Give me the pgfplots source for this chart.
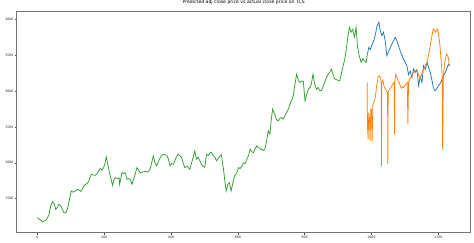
\documentclass[border=0pt]{standalone}
\usepackage{fontspec}
\setmainfont{DejaVu Sans}
\usepackage{pgfplots}
\pgfplotsset{compat=1.18}
\definecolor{mplblue}{HTML}{1F77B4}
\definecolor{mplorange}{HTML}{FF7F0E}
\definecolor{mplgreen}{HTML}{2CA02C}
\begin{document}
\begin{tikzpicture}
\begin{axis}[
  scale only axis,
  width=454pt, height=221pt,
  xmin=-62, xmax=1297, ymin=1025, ymax=4107,
  xtick={0,200,...,1200}, ytick={1500,2000,...,4000},
  tick align=outside, major tick length=2pt,
  tick style={black!70, line width=0.5pt},
  axis line style={draw=black!55, line width=1.2pt},
  xtick pos=bottom, ytick pos=left,
  /pgf/number format/assume math mode=true,
  /pgf/number format/set thousands separator={},
  ticklabel style={font=\fontsize{3.2}{3.7}\selectfont, text=black!85, inner sep=1pt},
  title={Predicted adj close price vs actual close price on TCS},
  title style={font=\fontsize{4.6}{5.5}\selectfont, at={(0.5,1)}, anchor=base, yshift=2.2pt, inner sep=0pt},
  every axis plot/.append style={line width=0.75pt, mark=none},
]
\coordinate (bbA) at (rel axis cs:0,0);
\coordinate (bbB) at (rel axis cs:1,1);
\addplot[mplblue] coordinates {
(988,3520)(992,3610)(997,3580)(1002,3650)(1007,3703)(1012,3800)(1017,3913)(1022,3960)
(1026,3850)(1031,3773)(1036,3820)(1041,3700)(1046,3493)(1051,3550)(1056,3600)(1061,3656)
(1066,3700)(1071,3750)(1076,3700)(1081,3630)(1086,3560)(1091,3500)(1096,3446)(1101,3400)
(1106,3350)(1111,3230)(1116,3280)(1121,3190)(1126,3306)(1131,3260)(1136,3300)(1141,3074)
(1146,3200)(1151,3120)(1156,3353)(1161,3300)(1166,3400)(1171,3330)(1176,3260)(1181,3150)
(1185,3050)(1190,3004)(1195,3030)(1200,3074)(1205,3100)(1210,3150)(1215,3214)(1220,3250)
(1225,3306)(1230,3376)(1234,3350)
};
\addplot[mplorange] coordinates {
(987,3120)(988,2500)(990,2330)(992,2700)(994,2630)(996,2310)(998,2750)(1000,2748)
(1002,2300)(1004,2800)(1007,2841)(1010,2880)(1012,2935)(1015,3050)(1017,3120)(1020,3200)
(1024,3214)(1027,3180)(1029,3120)(1030,1957)(1031,3120)(1034,3150)(1038,3060)(1042,3027)
(1046,2990)(1048,2980)(1049,1980)(1050,2980)(1054,3027)(1058,3050)(1061,3074)(1065,3110)
(1068,3120)(1069,2398)(1070,3140)(1073,3236)(1077,3180)(1080,3130)(1083,3120)(1087,3060)
(1090,3040)(1093,3060)(1096,3050)(1100,3080)(1104,3100)(1107,3120)(1109,2538)(1111,3120)
(1116,3180)(1121,3214)(1126,3260)(1131,3283)(1136,3283)(1141,3230)(1146,3167)(1151,3250)
(1156,3306)(1161,3350)(1166,3400)(1171,3500)(1176,3633)(1181,3773)(1185,3866)(1189,3840)
(1192,3820)(1195,3850)(1198,3866)(1202,3750)(1205,3633)(1208,3450)(1210,3330)(1212,3200)
(1213,2180)(1215,3167)(1218,3350)(1220,3423)(1225,3516)(1230,3470)(1233,3353)
};
\addplot[mplgreen] coordinates {
(0,1235)(5,1215)(10,1200)(15,1175)(20,1190)(25,1195)(30,1230)(35,1280)(40,1400)(45,1460)
(50,1430)(55,1350)(60,1380)(64,1420)(70,1400)(75,1350)(79,1305)(85,1300)(90,1360)(94,1445)
(101,1607)(106,1590)(110,1600)(115,1610)(121,1630)(126,1615)(130,1600)(135,1640)(139,1677)
(145,1700)(150,1720)(154,1747)(161,1840)(167,1830)(174,1825)(180,1860)(188,1920)(193,1900)
(198,1930)(202,1990)(206,2083)(210,2000)(214,1900)(218,1817)(225,1686)(229,1760)(233,1793)
(240,1780)(245,1790)(246,1700)(250,1790)(253,1863)(258,1850)(263,1860)(268,1770)(273,1780)
(278,1770)(283,1700)(290,1800)(298,1933)(303,1900)(308,1860)(315,1870)(322,1880)(330,1870)
(337,1910)(342,2000)(347,2096)(352,2000)(357,1957)(365,2050)(372,2100)(377,2119)(382,2110)
(387,2110)(392,2050)(397,1957)(402,1990)(407,1980)(414,2060)(421,2119)(426,2100)(431,2080)
(436,2000)(441,1933)(448,1950)(456,1910)(463,2020)(471,2166)(476,2050)(481,2080)(486,2030)
(491,1980)(496,1950)(501,1935)(506,2119)(512,2100)(516,2140)(521,2143)(526,2100)(531,2080)
(536,2027)(541,2060)(546,2090)(551,2110)(554,2000)(557,1910)(561,1750)(565,1607)(570,1700)
(575,1720)(578,1650)(580,1610)(585,1720)(590,1817)(594,1840)(597,1860)(602,1933)(607,1920)
(612,1957)(617,2000)(622,1990)(627,2050)(632,2100)(637,2190)(642,2150)(647,2143)(652,2200)
(657,2236)(662,2210)(667,2190)(671,2190)(676,2170)(681,2190)(686,2300)(691,2446)(696,2400)
(700,2600)(704,2748)(708,2700)(712,2655)(716,2600)(721,2585)(726,2620)(731,2632)(736,2610)
(741,2660)(746,2701)(752,2760)(758,2841)(762,2880)(766,2935)(771,3100)(776,3236)(781,3150)
(786,3120)(791,3140)(796,3130)(801,2865)(806,2950)(811,3027)(816,3050)(820,3100)(825,3236)
(830,3100)(835,3027)(840,3050)(845,3010)(850,3004)(855,3060)(860,3120)(865,3190)(870,3230)
(875,3260)(880,3306)(885,3230)(890,3167)(895,3160)(900,3150)(905,3144)(910,3250)(915,3350)
(920,3446)(925,3600)(930,3780)(934,3889)(939,3820)(944,3860)(949,3750)(954,3889)(958,3630)
(963,3500)(969,3400)(974,3450)(979,3420)(984,3400)(988,3520)
};
\end{axis}
\draw[black!55, line width=1.2pt] (bbA) rectangle (bbB);
\path[use as bounding box] ([xshift=-16.7pt,yshift=-10pt]bbA) rectangle ([xshift=3.3pt,yshift=9pt]bbB);
\end{tikzpicture}
\end{document}
